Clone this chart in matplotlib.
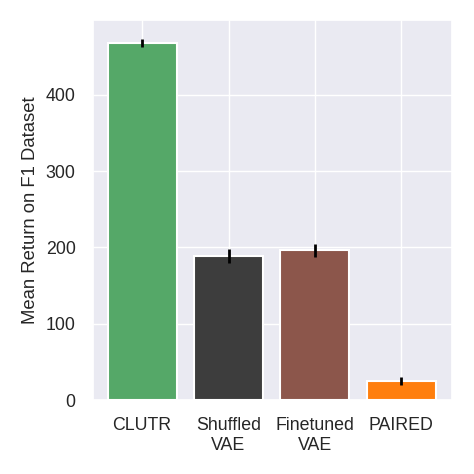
import matplotlib
matplotlib.use("Agg")
import matplotlib.pyplot as plt
import seaborn as sns

sns.set_theme(style="darkgrid")
plt.rcParams['font.family'] = ['Liberation Sans', 'DejaVu Sans']

methods = ["CLUTR", "Shuffled\nVAE", "Finetuned\nVAE", "PAIRED"]
mean_return = [468, 189, 196, 25]
err = [5, 9, 8, 5]
colors = ["#55a868", "#3d3d3d", "#8c564b", "#ff7f0e"]

fig = plt.figure(figsize=(4.74, 4.74), dpi=100)
ax = fig.add_axes([0.196, 0.156, 0.758, 0.802])
x = range(len(methods))
ax.bar(x, mean_return, width=0.8, color=colors, edgecolor="white", linewidth=1.5,
       yerr=err, error_kw=dict(ecolor="black", elinewidth=2, capsize=0))
ax.set_xticks(list(x))
ax.set_xticklabels(methods, fontsize=12.8)
ax.tick_params(axis="y", labelsize=12.8, pad=6.5)
ax.tick_params(axis="x", pad=6.5)
ax.set_xlim(-0.57, 3.59)
ax.set_ylim(0, 498)
ax.set_ylabel("Mean Return on F1 Dataset", fontsize=13.3, labelpad=5)
plt.savefig("out.png", dpi=100)
